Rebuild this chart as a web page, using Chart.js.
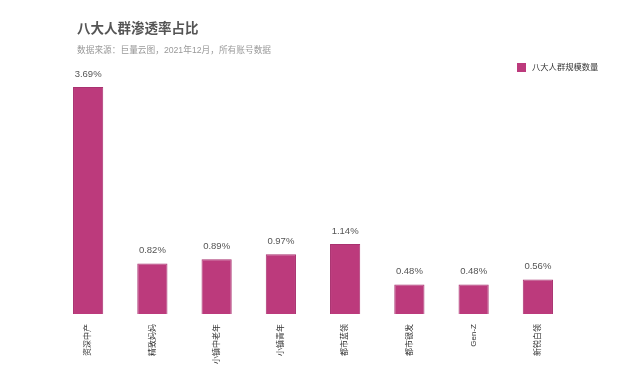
<!DOCTYPE html>
<html lang="zh-CN">
<head>
    <meta charset="UTF-8">
    <title>八大人群渗透率占比</title>
    <script src="https://cdn.jsdelivr.net/npm/chart.js"></script>
    <style>
        html, body {
            margin: 0;
            padding: 0;
            background: #fff;
        }
        #wrap {
            width: 640px;
            height: 382px;
            position: relative;
        }
    </style>
</head>
<body>
    <div id="wrap">
        <canvas id="chart"></canvas>
    </div>

    <script>
        // 数据
        const groups = ['资深中产', '精致妈妈', '小镇中老年', '小镇青年', '都市蓝领', '都市银发', 'Gen-Z', '新锐白领'];
        const rates = [3.69, 0.82, 0.89, 0.97, 1.14, 0.48, 0.48, 0.56];
        const seriesName = '八大人群规模数量';
        const titleText = '八大人群渗透率占比';
        const subText = '数据来源：巨量云图，2021年12月，所有账号数据';

        const FONT = '"Liberation Sans", "Noto Sans CJK SC", sans-serif';
        const barColor = '#bc3a7c';

        // 标题、图例和数值标签
        const decorations = {
            id: 'decorations',
            afterDraw(chart) {
                const ctx = chart.ctx;
                ctx.save();
                ctx.textBaseline = 'middle';
                ctx.textAlign = 'left';

                ctx.fillStyle = '#555';
                ctx.font = 'bold 13.5px ' + FONT;
                ctx.fillText(titleText, 77, 29);

                ctx.fillStyle = '#999';
                ctx.font = '8.7px ' + FONT;
                ctx.fillText(subText, 77, 51);

                ctx.fillStyle = barColor;
                ctx.fillRect(517, 63, 9, 9);
                ctx.fillStyle = '#333';
                ctx.font = '8.3px ' + FONT;
                ctx.fillText(seriesName, 532, 68);

                // 数值
                const meta = chart.getDatasetMeta(0);
                ctx.textAlign = 'center';
                ctx.fillStyle = '#555';
                ctx.font = '9.5px ' + FONT;
                meta.data.forEach((bar, i) => {
                    ctx.fillText(rates[i].toFixed(2) + '%', bar.x, bar.y - 13);
                });
                ctx.restore();
            }
        };

        new Chart(document.getElementById('chart'), {
            type: 'bar',
            data: {
                labels: groups,
                datasets: [{
                    label: seriesName,
                    data: rates,
                    backgroundColor: barColor,
                    borderColor: '#a93270',
                    borderWidth: 1,
                    categoryPercentage: 1,
                    barPercentage: 0.47
                }]
            },
            options: {
                responsive: true,
                maintainAspectRatio: false,
                animation: false,
                layout: {
                    padding: { left: 56, right: 70, top: 68, bottom: 0 }
                },
                plugins: {
                    legend: { display: false },
                    tooltip: { enabled: false }
                },
                scales: {
                    x: {
                        grid: { display: false },
                        border: { display: false },
                        ticks: {
                            color: '#333',
                            font: { family: FONT, size: 8 },
                            minRotation: 90,
                            maxRotation: 90,
                            padding: 2,
                            autoSkip: false
                        },
                        afterFit(scale) {
                            scale.height = 68;
                        }
                    },
                    y: {
                        display: false,
                        min: 0,
                        max: 4
                    }
                }
            },
            plugins: [decorations]
        });
    </script>
</body>
</html>
